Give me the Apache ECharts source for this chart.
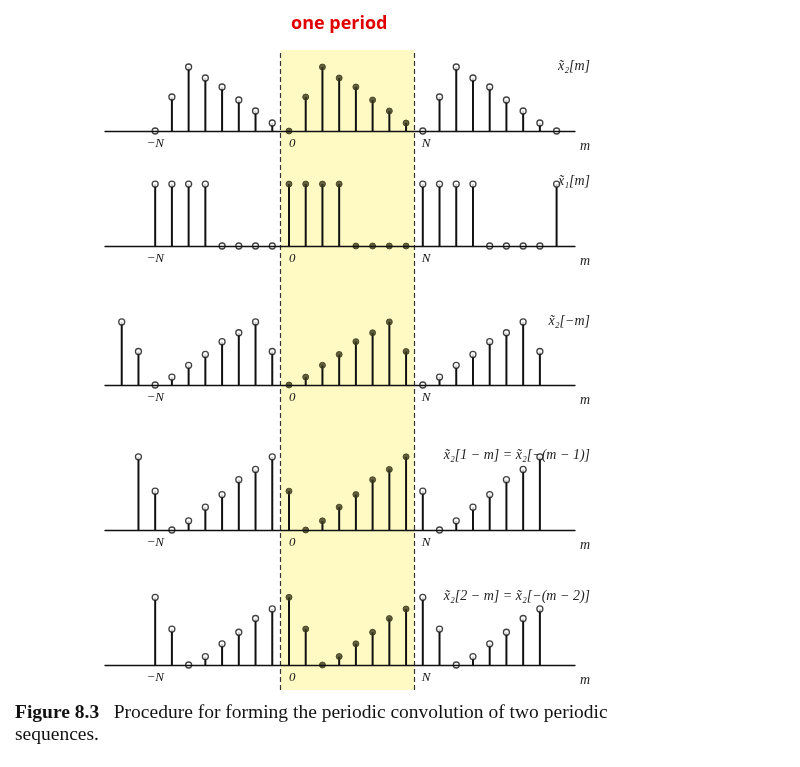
<!DOCTYPE html>
<html><head><meta charset="utf-8">
<script src="https://cdn.jsdelivr.net/npm/echarts@6/dist/echarts.min.js"></script>
<style>html,body{margin:0;background:#fff}#c{width:800px;height:767px}</style>
</head><body><div id="c"></div>
<script>
// m from -11 to 17
var mVals = [];
for (var i = -11; i <= 17; i++) mVals.push(i);
var n = null;
var x2m   = [n,n,n, 0,3.4,6.4,5.3,4.4,3.1,2,0.8, 0,3.4,6.4,5.3,4.4,3.1,2,0.8, 0,3.4,6.4,5.3,4.4,3.1,2,0.8, 0,n];
var x1m   = [n,n,n, 1,1,1,1,0,0,0,0, 1,1,1,1,0,0,0,0, 1,1,1,1,0,0,0,0, 1,n];
var x2neg = [n,6.4,3.4, 0,0.8,2,3.1,4.4,5.3,6.4,3.4, 0,0.8,2,3.1,4.4,5.3,6.4,3.4, 0,0.8,2,3.1,4.4,5.3,6.4,3.4, n,n];
var x2s1  = [n,n,6.4, 3.4,0,0.8,2,3.1,4.4,5.3,6.4, 3.4,0,0.8,2,3.1,4.4,5.3,6.4, 3.4,0,0.8,2,3.1,4.4,5.3,6.4, n,n];
var x2s2  = [n,n,n, 6.4,3.4,0,0.8,2,3.1,4.4,5.3, 6.4,3.4,0,0.8,2,3.1,4.4,5.3, 6.4,3.4,0,0.8,2,3.1,4.4,5.3, n,n];
var panels = [
  {data: x2m,   label: 'x̃₂[m]',                      axisY: 131, h: 70, max: 7},
  {data: x1m,   label: 'x̃₁[m]',                      axisY: 246, h: 70, max: 1.13},
  {data: x2neg, label: 'x̃₂[−m]',                     axisY: 385, h: 69, max: 7},
  {data: x2s1,  label: 'x̃₂[1 − m] = x̃₂[−(m − 1)]',  axisY: 530, h: 80, max: 7},
  {data: x2s2,  label: 'x̃₂[2 − m] = x̃₂[−(m − 2)]',  axisY: 665, h: 74, max: 7}
];
var XMIN = -11, XMAX = 17.1;
var grids = [], xAxes = [], yAxes = [], series = [], graphics = [];
var serif = '"Liberation Serif", "DejaVu Serif", serif';

// overlay grid for the shaded period (first, so it sits underneath)
grids.push({left: 105, width: 470, top: 50, height: 640});
xAxes.push({type: 'value', gridIndex: 0, min: XMIN, max: XMAX, show: false});
yAxes.push({type: 'value', gridIndex: 0, min: 0, max: 1, show: false});
series.push({
  type: 'line', xAxisIndex: 0, yAxisIndex: 0, data: [], silent: true, z: -5, zlevel: 0,
  markArea: {silent: true, itemStyle: {color: 'rgba(255,250,190,0.9)'}, data: [[{xAxis: -0.5}, {xAxis: 7.5}]]},
  markLine: {silent: true, symbol: 'none', label: {show: false},
    lineStyle: {color: '#333', type: [5, 3], width: 1.2}, data: [{xAxis: -0.5}, {xAxis: 7.5}]}
});

panels.forEach(function (p, j) {
  var k = j + 1;
  grids.push({left: 105, width: 470, top: p.axisY - p.h, height: p.h});
  xAxes.push({
    type: 'value', gridIndex: k, min: XMIN, max: XMAX, interval: 1, z: 10,
    axisLine: {lineStyle: {color: '#111', width: 1.3}}, axisTick: {show: false},
    splitLine: {show: false},
    axisLabel: {
      margin: 6, fontFamily: serif, fontSize: 13, color: '#111', fontStyle: 'italic',
      formatter: function (v) { return v === -8 ? '−N' : v === 0 ? '  0' : v === 8 ? '  N' : ''; }
    }
  });
  yAxes.push({type: 'value', gridIndex: k, min: 0, max: p.max, show: false});
  var stems = [], hollow = [], filled = [];
  p.data.forEach(function (v, i) {
    if (v === null) return;
    var m = mVals[i];
    stems.push([m, v]);
    (m >= 0 && m <= 7 ? filled : hollow).push([m, v]);
  });
  series.push({
    type: 'custom', xAxisIndex: k, yAxisIndex: k, data: stems, silent: true,
    renderItem: function (params, api) {
      var a = api.coord([api.value(0), 0]), b = api.coord([api.value(0), api.value(1)]);
      return {type: 'line', shape: {x1: a[0], y1: a[1], x2: b[0], y2: b[1]}, style: {stroke: '#111', lineWidth: 2}};
    }
  });
  series.push({type: 'scatter', xAxisIndex: k, yAxisIndex: k, data: hollow, symbolSize: 6,
    itemStyle: {color: '#fff', borderColor: '#111', borderWidth: 1.3}, z: 5});
  series.push({type: 'scatter', xAxisIndex: k, yAxisIndex: k, data: filled, symbolSize: 6,
    itemStyle: {color: '#3b3a1c', borderColor: '#3b3a1c', borderWidth: 1}, z: 5});
  graphics.push({type: 'text', right: 210, top: p.axisY - p.h - 2,
    style: {text: p.label, font: 'italic 14px ' + serif, fill: '#222'}});
  graphics.push({type: 'text', left: 580, top: p.axisY + 8,
    style: {text: 'm', font: 'italic 14px ' + serif, fill: '#222'}});
});

graphics.push({type: 'text', left: 291, top: 15,
  style: {text: 'one period', font: 'bold 18px "Open Sans", sans-serif', fill: '#e00000'}});
graphics.push({type: 'text', left: 15, top: 702,
  style: {text: '{b|Figure 8.3}   Procedure for forming the periodic convolution of two periodic\nsequences.',
    font: '19.5px ' + serif, fill: '#111', lineHeight: 22,
    rich: {b: {fontWeight: 'bold', fontFamily: serif, fontSize: 19.5}}}});

var myChart = echarts.init(document.getElementById('c'));
myChart.setOption({
  animation: false,
  grid: grids, xAxis: xAxes, yAxis: yAxes, series: series, graphic: graphics
});
</script></body></html>
